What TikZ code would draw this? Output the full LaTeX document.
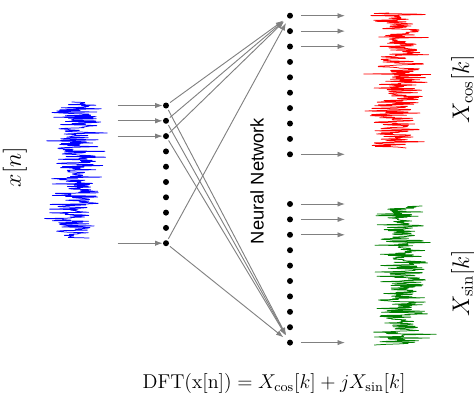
\documentclass[tikz,border=0pt]{standalone}
\usepackage{amsmath}
\usepackage{fontspec}
\newfontfamily\nnfont{Liberation Sans}
\usetikzlibrary{arrows.meta,positioning}
\definecolor{sigGreen}{RGB}{0,128,0}

\begin{document}
\begin{tikzpicture}[x=0.6pt, y=-0.6pt,
  unit/.style={circle, fill=black, inner sep=0pt, minimum size=3.6pt},
  feed/.style={-{Latex[length=4.5pt,width=3.2pt]}, gray, line width=0.55pt},
  wire/.style={feed, shorten <=1pt, shorten >=3pt},
  signal/.style={line width=0.45pt, line join=round}]
  \useasboundingbox (0,0) rectangle (474,404);

  \foreach \i in {1,...,10}
    \node[unit] (in\i) at (166, {105.5+15.3*(\i-1)}) {};
  \foreach \i in {1,...,10} {
    \node[unit] (cos\i) at (290, {15.7+15.4*(\i-1)}) {};
    \node[unit] (sin\i) at (290, {204+15.4*(\i-1)}) {};
  }

  \foreach \i in {1,2,3,10} {
    \coordinate[left=27pt of in\i] (src\i);
    \draw[feed] (src\i) -- (in\i);
    \draw[wire] (in\i) -- (cos1);
    \draw[wire] (in\i) -- (sin10);
    \coordinate[right=4.5pt of cos\i] (cosa\i);
    \coordinate[right=26.5pt of cosa\i] (cosb\i);
    \draw[feed] (cosa\i) -- (cosb\i);
    \coordinate[right=4.5pt of sin\i] (sina\i);
    \coordinate[right=26.5pt of sina\i] (sinb\i);
    \draw[feed] (sina\i) -- (sinb\i);
  }

  \pgfmathsetseed{7}
  \draw[signal, blue] plot[domain=102:238, samples=260] ({75+13*(rand+rand+rand)}, \x);
  \draw[signal, red] plot[domain=13:148, samples=260] ({398+13*(rand+rand+rand)}, \x);
  \draw[signal, sigGreen] plot[domain=206:345, samples=260] ({404+13*(rand+rand+rand)}, \x);

  \node[rotate=90] (xn) at (15,167) {\Large $x[n]$};
  \node[rotate=90] (xcos) at (463,89) {\Large $X_{\cos}[k]$};
  \node[rotate=90] (xsin) at (463,283) {\Large $X_{\sin}[k]$};
  \node[rotate=90, font=\nnfont\fontsize{11}{13}\selectfont] (nn) at (257,181) {Neural Network};
  \node (dft) at (274,383) {\large $\mathrm{DFT(x[n])} = X_{\cos}[k] + jX_{\sin}[k]$};
\end{tikzpicture}
\end{document}
